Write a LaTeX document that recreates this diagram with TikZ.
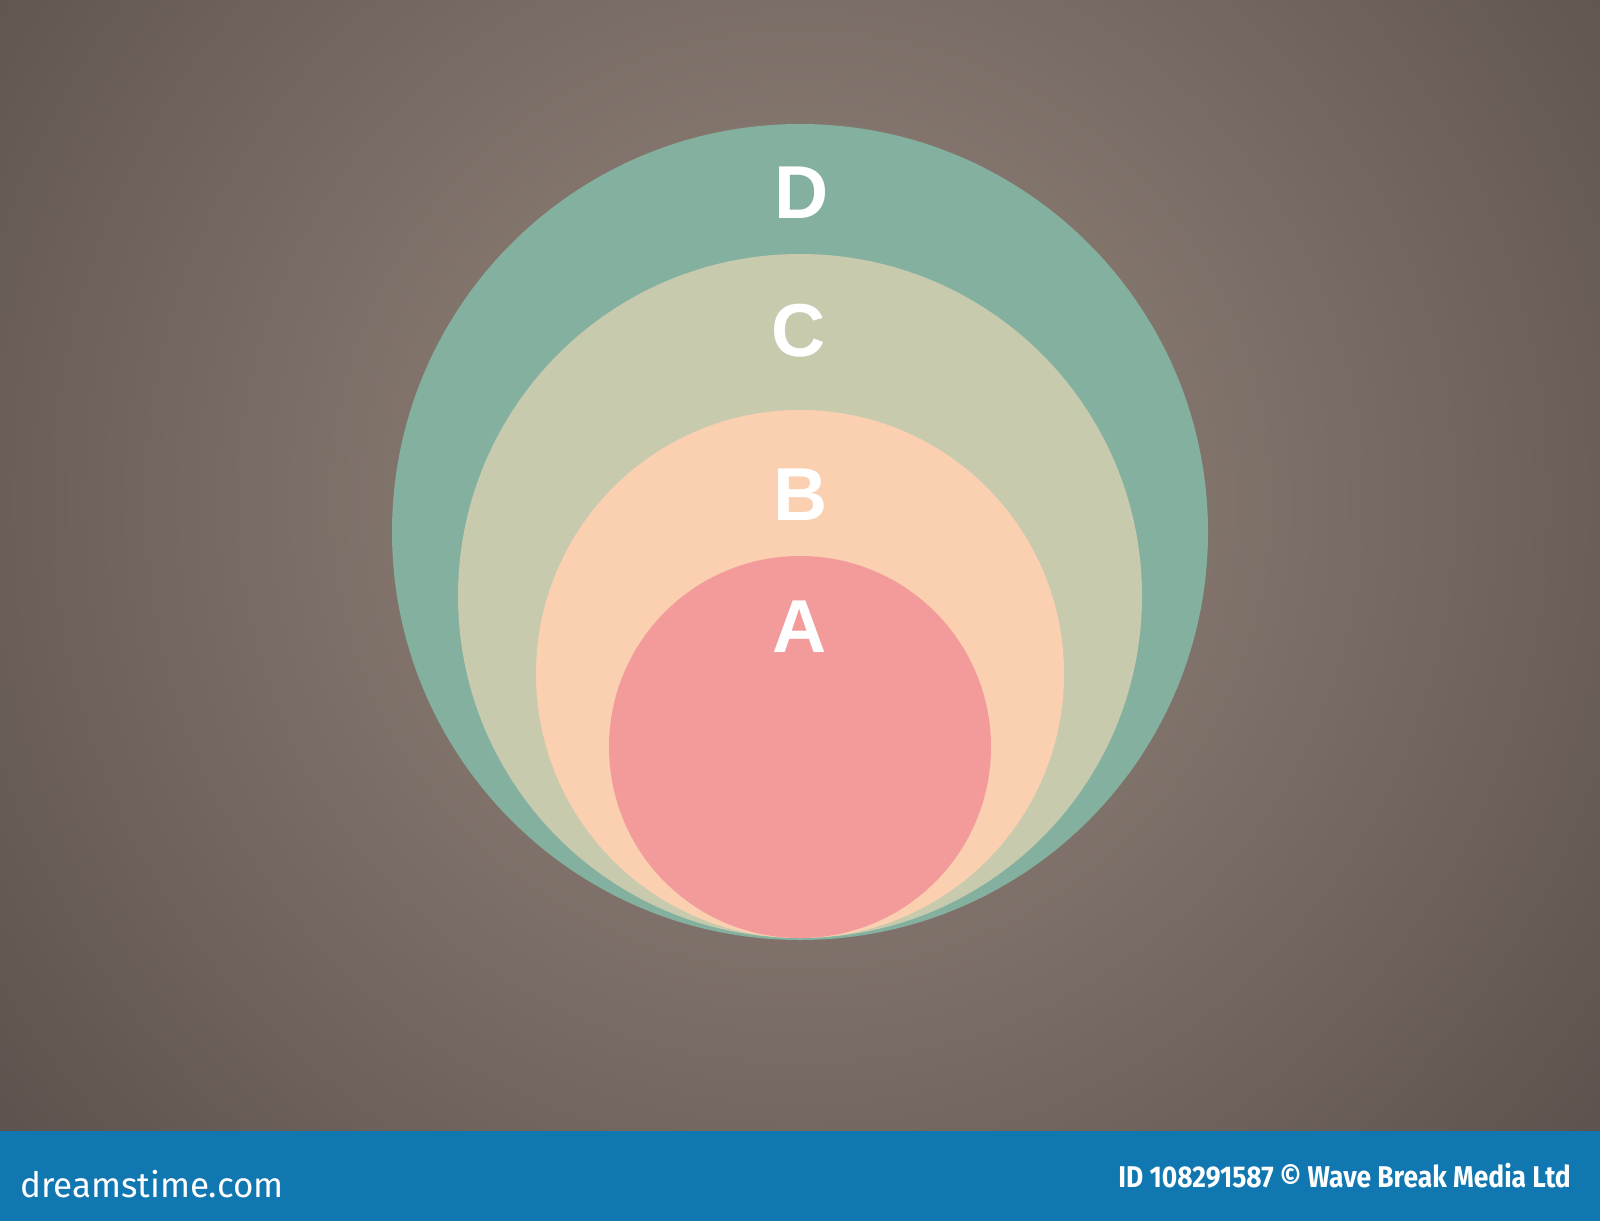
\documentclass[tikz,border=0pt]{standalone}
\usepackage{fontspec}
\setmainfont{Liberation Sans}
\newfontfamily\barfont{Fira Sans}
\definecolor{bgin}{RGB}{152,137,126}
\definecolor{bgout}{RGB}{86,75,71}
\definecolor{cD}{RGB}{132,176,160}
\definecolor{cC}{RGB}{200,202,174}
\definecolor{cB}{RGB}{250,208,176}
\definecolor{cA}{RGB}{243,155,155}
\definecolor{barblue}{RGB}{17,119,176}
\begin{document}
\begin{tikzpicture}[x=1pt,y=-1pt,
  letter/.style={text=white,font=\fontsize{75}{75}\selectfont\bfseries,inner sep=0pt,anchor=center},
  bartext/.style={text=white,inner sep=0pt}]
\useasboundingbox (0,0) rectangle (1600,1221);
\begin{scope}
\clip (0,0) rectangle (1600,1131);
\shade[inner color=bgin,outer color=bgout] (800,500) circle[radius=1150];
\end{scope}
\fill[barblue] (0,1131) rectangle (1600,1221);
% nested circles, tangent at bottom
\fill[cD] (800,532) circle[radius=408];
\fill[cC] (800,596) circle[radius=342];
\fill[cB] (800,674) circle[radius=264];
\fill[cA] (800,747) circle[radius=191];
\node[letter] (D) at (802,193) {D};
\node[letter] (C) at (799,331) {C};
\node[letter] (B) at (801,495) {B};
\node[letter] (A) at (800,627) {A};
\node[bartext,anchor=west] (site) at (20,1184) {\barfont\fontsize{35}{35}\selectfont dreamstime.com};
\node[bartext,anchor=east] (credit) at (1571,1176) {\scalebox{0.88}[1]{\barfont\fontsize{30}{30}\selectfont\bfseries ID 108291587 © Wave Break Media Ltd}};
\end{tikzpicture}
\end{document}
